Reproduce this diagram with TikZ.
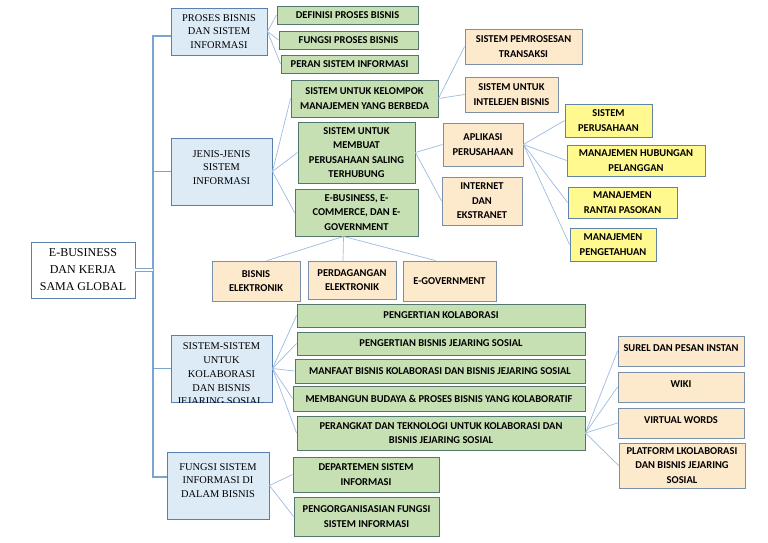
\documentclass[tikz,border=0pt]{standalone}
\usepackage{fontspec}
\setmainfont{Liberation Serif}
\newfontfamily\calfont{Carlito}
\definecolor{fillblue}{HTML}{DDEBF7}
\definecolor{bordblue}{HTML}{5A80AD}
\definecolor{fillgreen}{HTML}{C6E0B4}
\definecolor{bordgreen}{HTML}{52776C}
\definecolor{fillpeach}{HTML}{FDE9CB}
\definecolor{bordpeach}{HTML}{7A90A8}
\definecolor{fillyellow}{HTML}{FFF98F}
\definecolor{bordyellow}{HTML}{5E84A8}
\definecolor{linkcol}{HTML}{9CBBE0}
\definecolor{trunkcol}{HTML}{7BA4D3}
\tikzset{
  base/.style={draw, line width=0.9pt, align=center, inner sep=0.5pt, anchor=center},
  seriffont/.style={font=\fontsize{10.4}{13.5}\selectfont},
  serifbox/.style={base, seriffont, draw=bordblue},
  bluebox/.style={serifbox, fill=fillblue},
  plaintext/.style={seriffont, align=center, inner sep=0pt},
  rootbox/.style={base, draw=bordblue, fill=white, font=\fontsize{12}{17}\selectfont},
  sansfont/.style={font=\calfont\bfseries\fontsize{10.5}{14.5}\selectfont},
  greenbox/.style={base, sansfont, draw=bordgreen, fill=fillgreen},
  peachbox/.style={base, sansfont, draw=bordpeach, fill=fillpeach},
  yellowbox/.style={base, sansfont, draw=bordyellow, fill=fillyellow},
  link/.style={draw=linkcol, line width=0.7pt},
  trunk/.style={draw=trunkcol, line width=1.3pt},
}
\begin{document}
\begin{tikzpicture}[x=1pt, y=-1pt]
\useasboundingbox (0,0) rectangle (768,543);
% root
\node[rootbox, minimum width=104pt, minimum height=56pt] (root) at (83,270) {E-BUSINESS\\DAN KERJA\\SAMA GLOBAL};
% level 1
\node[bluebox, minimum width=96pt, minimum height=47pt] (p1) at (219,31.5) {PROSES BISNIS\\DAN SISTEM\\INFORMASI};
\node[bluebox, minimum width=101pt, minimum height=67pt] (p2) at (221.5,171.5) {};
\node[plaintext] (p2t) at ([yshift=4pt]p2.center) {JENIS-JENIS\\SISTEM\\INFORMASI};
\node[bluebox, minimum width=101pt, minimum height=67pt] (p3) at (221.5,368.5) {};
\begin{scope}
\clip ([xshift=0.45pt,yshift=0.45pt]p3.south west) rectangle ([xshift=-0.45pt,yshift=-0.45pt]p3.north east);
\node[plaintext, font=\fontsize{10.4}{13.8}\selectfont] (p3t) at ([yshift=-5.5pt]p3.center) {SISTEM-SISTEM\\UNTUK\\KOLABORASI\\DAN BISNIS\\JEJARING SOSIAL.};
\end{scope}
\node[bluebox, minimum width=102pt, minimum height=67pt] (p4) at (218,485.5) {};
\node[plaintext] (p4t) at ([yshift=5pt]p4.center) {FUNGSI SISTEM\\INFORMASI DI\\DALAM BISNIS};
% trunk
\coordinate (ta) at (153,36);
\coordinate (tb) at (153,477);
\draw[trunk] ([yshift=-4.5pt]p1.west) -- (ta) -- (tb) -- ([yshift=8.5pt]p4.west);
\draw[trunk] (p2.west) -- (p2.west -| ta);
\draw[trunk] (p3.west) -- (p3.west -| ta);
\draw[draw=trunkcol, line width=0.8pt, double=white, double distance=1.6pt] (root.east) -- (root.east -| ta);
% proses children
\node[greenbox, minimum width=141pt, minimum height=18pt] (d1) at (347.5,15) {DEFINISI PROSES BISNIS};
\node[greenbox, minimum width=139pt, minimum height=18pt] (d2) at (348.5,40) {FUNGSI PROSES BISNIS};
\node[greenbox, minimum width=137pt, minimum height=18pt] (d3) at (349.5,64) {PERAN SISTEM INFORMASI};
% jenis children
\node[greenbox, minimum width=147pt, minimum height=37pt] (j1) at (364.5,98.5) {SISTEM UNTUK KELOMPOK\\MANAJEMEN YANG BERBEDA};
\node[greenbox, minimum width=117pt, minimum height=61pt] (j2) at (356.5,152.5) {SISTEM UNTUK\\MEMBUAT\\PERUSAHAAN SALING\\TERHUBUNG};
\node[greenbox, minimum width=123pt, minimum height=47pt] (j3) at (356.5,212.5) {E-BUSINESS, E-\\COMMERCE, DAN E-\\GOVERNMENT};
% kelompok children
\node[peachbox, minimum width=117pt, minimum height=35pt] (t1) at (523.5,46.5) {SISTEM PEMROSESAN\\TRANSAKSI};
\node[peachbox, minimum width=93pt, minimum height=35pt] (t2) at (511.5,94.5) {SISTEM UNTUK\\INTELEJEN BISNIS};
% terhubung children
\node[peachbox, minimum width=80pt, minimum height=43pt] (a1) at (483,144.5) {APLIKASI\\PERUSAHAAN};
\node[peachbox, minimum width=80pt, minimum height=48pt] (a2) at (482,201) {INTERNET\\DAN\\EKSTRANET};
% aplikasi children
\node[yellowbox, minimum width=87pt, minimum height=33pt] (y1) at (608.5,120.5) {SISTEM\\PERUSAHAAN};
\node[yellowbox, minimum width=138pt, minimum height=31pt] (y2) at (636,160.5) {MANAJEMEN HUBUNGAN\\PELANGGAN};
\node[yellowbox, minimum width=109pt, minimum height=31pt] (y3) at (622.5,202.5) {MANAJEMEN\\RANTAI PASOKAN};
\node[yellowbox, minimum width=86pt, minimum height=33pt] (y4) at (613,244.5) {MANAJEMEN\\PENGETAHUAN};
% e-business children
\node[peachbox, minimum width=88pt, minimum height=40pt] (e1) at (256,281) {BISNIS\\ELEKTRONIK};
\node[peachbox, minimum width=88pt, minimum height=38pt] (e2) at (352,280) {PERDAGANGAN\\ELEKTRONIK};
\node[peachbox, minimum width=93pt, minimum height=40pt] (e3) at (449.5,281) {E-GOVERNMENT};
% kolaborasi children
\node[greenbox, minimum width=288pt, minimum height=23pt] (k1) at (441,315.5) {PENGERTIAN KOLABORASI};
\node[greenbox, minimum width=288pt, minimum height=23pt] (k2) at (441,343.5) {PENGERTIAN BISNIS JEJARING SOSIAL};
\node[greenbox, minimum width=290pt, minimum height=24pt] (k3) at (440,371) {MANFAAT BISNIS KOLABORASI DAN BISNIS JEJARING SOSIAL};
\node[greenbox, minimum width=292pt, minimum height=25pt] (k4) at (439,398.5) {MEMBANGUN BUDAYA \& PROSES BISNIS YANG KOLABORATIF};
\node[greenbox, minimum width=288pt, minimum height=34pt] (k5) at (441,433) {PERANGKAT DAN TEKNOLOGI UNTUK KOLABORASI DAN\\BISNIS JEJARING SOSIAL};
% perangkat children
\node[peachbox, minimum width=126pt, minimum height=30pt] (s1) at (681,351) {};
\node[peachbox, draw=none, fill=none] (s1t) at ([yshift=3pt]s1.center) {SUREL DAN PESAN INSTAN};
\node[peachbox, minimum width=126pt, minimum height=30pt] (s2) at (681,387) {};
\node[peachbox, draw=none, fill=none] (s2t) at ([yshift=3pt]s2.center) {WIKI};
\node[peachbox, minimum width=126pt, minimum height=30pt] (s3) at (681,423) {};
\node[peachbox, draw=none, fill=none] (s3t) at ([yshift=3pt]s3.center) {VIRTUAL WORDS};
\node[peachbox, minimum width=126pt, minimum height=45pt] (s4) at (682,465.5) {PLATFORM LKOLABORASI\\DAN BISNIS JEJARING\\SOSIAL};
% fungsi children
\node[greenbox, minimum width=146pt, minimum height=35pt] (f1) at (366,474.5) {DEPARTEMEN SISTEM\\INFORMASI};
\node[greenbox, minimum width=145pt, minimum height=39pt] (f2) at (366.5,516.5) {PENGORGANISASIAN FUNGSI\\SISTEM INFORMASI};
% links
\foreach \c in {d1,d2,d3} \draw[link] (p1.east) -- (\c.west);
\foreach \c in {j1,j2,j3} \draw[link] (p2.east) -- (\c.west);
\foreach \c in {t1,t2} \draw[link] (j1.east) -- (\c.west);
\foreach \c in {a1,a2} \draw[link] (j2.east) -- (\c.west);
\foreach \c in {y1,y2,y3,y4} \draw[link] (a1.east) -- (\c.west);
\draw[link] ([xshift=-13pt]j3.south) -- ([xshift=11pt]e1.north);
\draw[link] ([xshift=-13pt]j3.south) -- ([xshift=-9pt]e2.north);
\draw[link] ([xshift=-13pt]j3.south) -- ([xshift=-14pt]e3.north);
\foreach \c in {k1,k2,k3,k4,k5} \draw[link] (p3.east) -- (\c.west);
\foreach \c in {s1,s2,s3,s4} \draw[link] (k5.east) -- (\c.west);
\foreach \c in {f1,f2} \draw[link] (p4.east) -- (\c.west);
\end{tikzpicture}
\end{document}
